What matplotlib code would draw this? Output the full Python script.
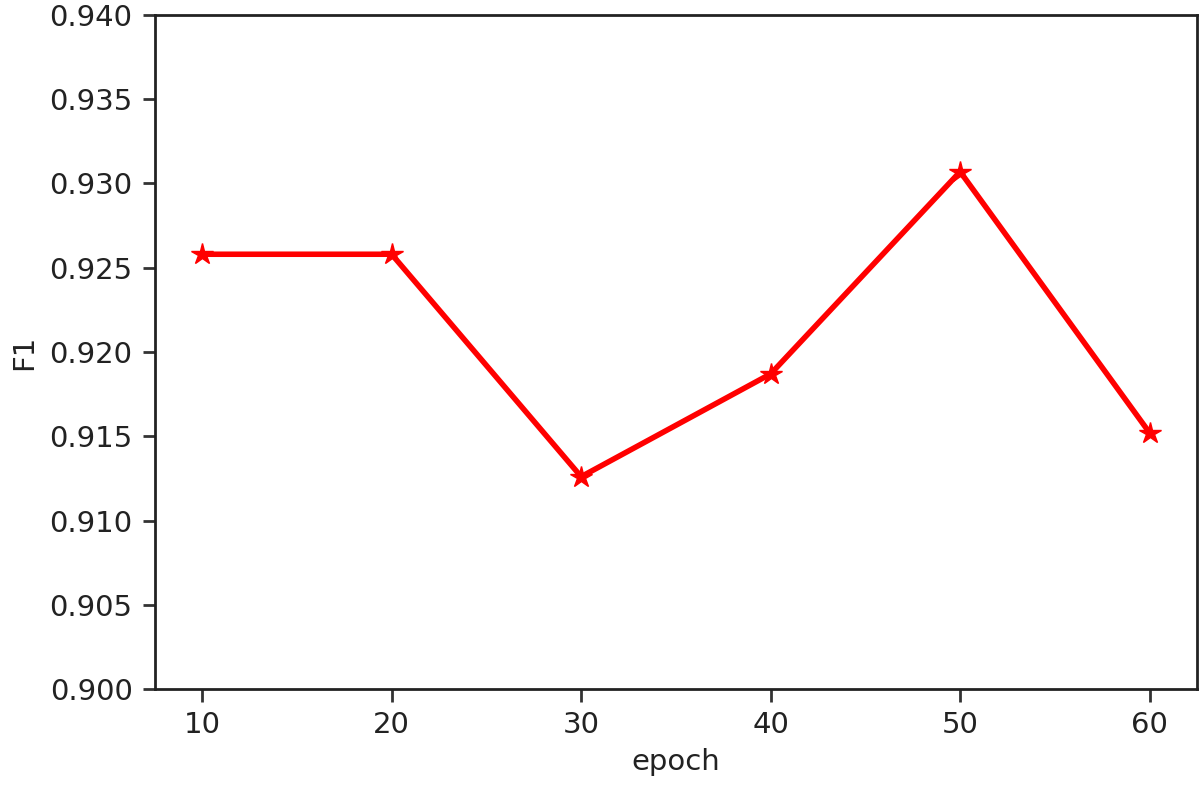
import matplotlib
matplotlib.use("Agg")
import matplotlib.pyplot as plt

epochs = [10, 20, 30, 40, 50, 60]
f1 = [0.9258, 0.9258, 0.9126, 0.9187, 0.9307, 0.9152]
yticks = [0.900, 0.905, 0.910, 0.915, 0.920, 0.925, 0.930, 0.935, 0.940]

fig = plt.figure(figsize=(12, 7.87), dpi=100)
ax = fig.add_axes([0.129, 0.1245, 0.8685, 0.8565])
ax.plot(epochs, f1, color="red", marker="*", linewidth=4, markersize=16)
ax.set_ylim(0.900, 0.940)
ax.set_yticks(yticks)
ax.set_yticklabels([f"{v:.3f}" for v in yticks])
ax.set_xticks(epochs)
ax.set_xlabel("epoch", fontsize=21, labelpad=6, color="#222222")
ax.set_ylabel("F1", fontsize=21, labelpad=8, color="#222222")
ax.tick_params(labelsize=21, width=2, length=9, pad=7, color="#333333", labelcolor="#222222")
for s in ax.spines.values():
    s.set_linewidth(2)
    s.set_color("#222222")
fig.savefig("out.png", dpi=100)
